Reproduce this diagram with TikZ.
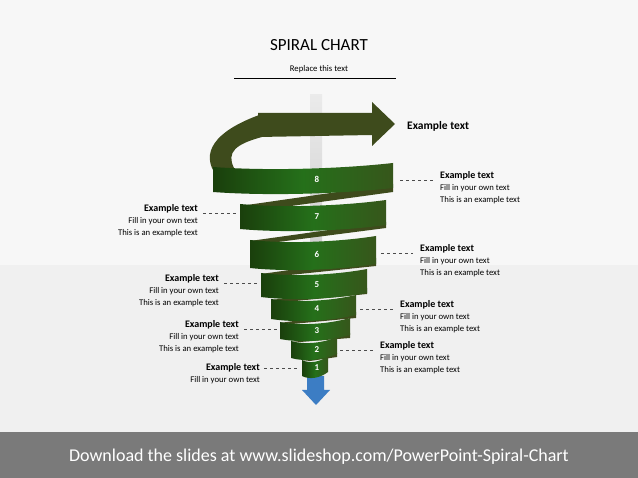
\documentclass[tikz,border=0pt]{standalone}
\usepackage{fontspec}
\setmainfont{Carlito}
\definecolor{gdark}{HTML}{1A3F0C}
\definecolor{gmid}{HTML}{25701A}
\definecolor{glight}{HTML}{3F7A1E}
\definecolor{olive}{HTML}{3E4B1C}
\definecolor{bluearr}{HTML}{3C7DC4}
\begin{document}
\begin{tikzpicture}[x=1pt,y=-1pt,
  ttl/.style={font=\bfseries\fontsize{10}{12}\selectfont,inner sep=0pt},
  sub/.style={font=\fontsize{8.7}{10}\selectfont,inner sep=0pt},
  num/.style={font=\bfseries\fontsize{9}{10}\selectfont,text=white,inner sep=0pt},
  dsh/.style={draw=black!70,dashed,line width=0.5pt},
  band/.style={left color=gdark,right color=olive!70!gmid,middle color=gmid,draw=none},
  back/.style={fill=olive,draw=none}]
\useasboundingbox (0,0) rectangle (638,478);
\fill[black!3] (0,0) rectangle (638,265);
\fill[black!6] (0,265) rectangle (638,432);
\fill[black!52] (0,432) rectangle (638,478);
\node[font=\fontsize{18}{20}\selectfont,text=white] (dl) at (319,457) {Download the slides at www.slideshop.com/PowerPoint-Spiral-Chart};
% title
\node[font=\fontsize{17}{19}\selectfont] (title) at (319,45) {SPIRAL CHART};
\node[sub] (rep) at (319,69) {Replace this text};
\draw[black,line width=0.7pt] (234,78) -- (396,78);
% gray pole
\shade[top color=black!8,bottom color=black!20] (310,95) rectangle (322,270);
% top loop back part
\fill[olive] (214,172) .. controls (200,148) and (222,128) .. (262,114) -- (262,137) .. controls (236,144) and (226,152) .. (234,168) -- cycle;
\shade[left color=olive,middle color=gmid!80!green,right color=olive] (258,113) -- (372,113) -- (372,102) -- (395,124) -- (372,146) -- (372,135) -- (258,137) -- cycle;
% back strips
\fill[back] (240,206) -- (393,184) -- (393,192) -- (262,210) -- cycle;
\fill[back] (250,241) -- (386,222) -- (386,228) -- (270,243) -- cycle;
\fill[back] (261,274) -- (376,258) -- (376,266) -- (280,276) -- cycle;
\fill[back] (271,300) -- (367,288) -- (367,294) -- (285,302) -- cycle;
\fill[back] (280,323) -- (356,312) -- (356,318) -- (292,324) -- cycle;
\fill[back] (291,341) -- (350,333) -- (350,338) -- (300,342) -- cycle;
\fill[back] (302,360) -- (337,353) -- (337,357) -- (310,361) -- cycle;
% blue arrow
\fill[bluearr] (307,376) -- (324,376) -- (324,390) -- (330,390) -- (316,405) -- (302,390) -- (307,390) -- cycle;
% front bands
\foreach \l/\r/\t/\b/\n in {213/393/167/192/8,240/386/204/229/7,250/376/240/268/6,261/367/273/297/5,271/356/299/319/4,280/350/322/339/3,291/337/341/358/2,302/328/360/376/1}{
  \shade[band] (\l,\t) .. controls ({\l+0.3*(\r-\l)},{\t+4}) and ({\l+0.7*(\r-\l)},{\t+2}) .. (\r,\t-4) -- (\r,\b-4) .. controls ({\l+0.7*(\r-\l)},{\b+2}) and ({\l+0.3*(\r-\l)},{\b+4}) .. (\l,\b) -- cycle;
  \node[num] (n\n) at (317,{(\t+\b)/2}) {\n};
}
% labels
\node[font=\bfseries\fontsize{11.5}{13}\selectfont,anchor=west,inner sep=0pt] (top) at (407,126) {Example text};
\foreach \id/\x/\y/\dl in {r8/440/176/400,r6/420/249/381,r4/400/305/360,r2/380/346/340}{
  \node[ttl,anchor=west] (\id a) at (\x,\y) {Example text};
  \node[sub,anchor=west] (\id b) at (\x,\y+12) {Fill in your own text};
  \node[sub,anchor=west] (\id c) at (\x,\y+24) {This is an example text};
  \coordinate (\id s) at (\dl,\y+4);
  \coordinate (\id e) at (\x-7,\y+4);
  \draw[dsh] (\id s) -- (\id e);
}
\foreach \id/\x/\y/\dr in {l7/198/209/237,l5/219/279/258,l3/239/325/278}{
  \node[ttl,anchor=east] (\id a) at (\x,\y) {Example text};
  \node[sub,anchor=east] (\id b) at (\x,\y+12) {Fill in your own text};
  \node[sub,anchor=east] (\id c) at (\x,\y+24) {This is an example text};
  \coordinate (\id s) at (\dr,\y+4);
  \coordinate (\id e) at (\x+5,\y+4);
  \draw[dsh] (\id e) -- (\id s);
}
\node[ttl,anchor=east] (l1a) at (260,368) {Example text};
\node[sub,anchor=east] (l1b) at (260,380) {Fill in your own text};
\coordinate (l1s) at (298,368);
\coordinate (l1e) at (264,368);
\draw[dsh] (l1e) -- (l1s);
\end{tikzpicture}
\end{document}
